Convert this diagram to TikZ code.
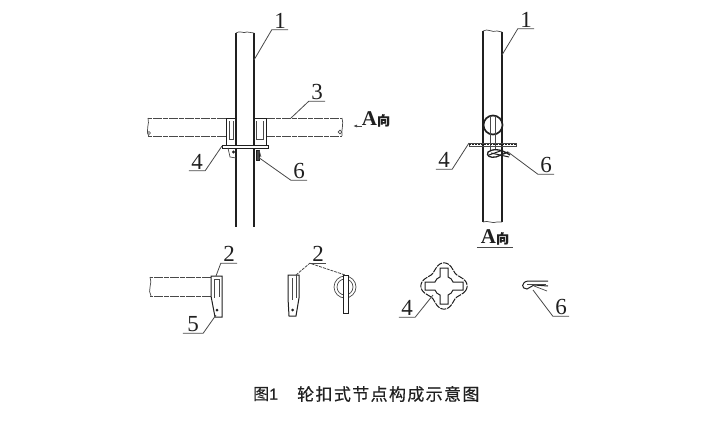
\documentclass[tikz,border=0pt]{standalone}
\usepackage{fontspec}
\setmainfont{Liberation Serif}
\newfontfamily\cjk{Noto Sans CJK SC}
\newfontfamily\cjkbold[FakeBold=0.5]{Noto Sans CJK SC}
\newfontfamily\cjkspaced[LetterSpace=8,FakeBold=0.5]{Noto Sans CJK SC}
\newfontfamily\capsans[FakeBold=0.5]{Liberation Sans}
\usetikzlibrary{arrows.meta}
\definecolor{ink}{HTML}{202020}
\definecolor{soft}{HTML}{484848}
\tikzset{
  x=1pt,y=-1pt,
  lab/.style={inner sep=0pt,minimum width=16pt,minimum height=18pt,text=ink,font=\fontsize{23}{23}\selectfont},
  lead/.style={draw=soft,line width=0.8pt},
  rule/.style={draw=soft,line width=0.9pt},
  pole/.style={draw=ink,line width=1.2pt},
  thin/.style={draw=soft,line width=0.7pt},
  tube/.style={draw=soft,line width=1pt,dash pattern=on 9pt off 1pt on 5pt off 1pt},
  part/.style={draw=ink,line width=1pt},
  arrowlab/.style={inner sep=0pt,text=ink,font=\fontsize{21}{21}\selectfont\bfseries}
}
\begin{document}
\begin{tikzpicture}
\useasboundingbox (0,0) rectangle (727,428);

% ---- left front view
\draw[pole] (236,33) -- (236,227);
\draw[pole] (254,33) -- (254,227);
\draw[thin] (236,33) .. controls (240,30) and (243,34) .. (247,32) -- (254,33);
\draw[tube] (226,118) -- (148,118);
\draw[tube] (226,136.5) -- (148,136.5);
\draw[thin] (148,118) .. controls (150,124) and (145,130) .. (149,136.5);
\draw[thin] (149,133) circle (1.5);
\draw[tube] (266,118) -- (342,118);
\draw[tube] (266,136) -- (342,136);
\draw[thin] (342,118) .. controls (344,124) and (341,130) .. (342,136);
\draw[thin] (340,132) circle (1.8);
\draw[part] (226,146) -- (226,118) -- (236,118);
\draw[part] (254,118) -- (266,118) -- (266,146);
\draw[thin] (229,121) -- (229,139) -- (233,139) -- (233,121);
\draw[thin] (256,121) -- (256,139) -- (263,139) -- (263,121);
\draw[part,fill=white] (222,145) rectangle (268,148);
\draw[thin] (228,148) -- (230,157) -- (236,158);
\fill[ink] (233.5,152) circle (1.6);
\draw[part,fill=soft] (256,150) rectangle (259,160);
\draw[thin] (259,150) -- (261,157);

\node[lab] (a1) at (280,20.5) {1};
\coordinate (a1t) at (254,60);
\draw[lead] (a1t) -- (a1.south west) -- (a1.south east);
\node[lab] (a3) at (317,92) {3};
\coordinate (a3t) at (291,118);
\draw[lead] (a3t) -- (a3.south west) -- (a3.south east);
\node[lab] (a4) at (197,161.5) {4};
\coordinate (a4t) at (222,146);
\draw[lead] (a4t) -- (a4.south east) -- (a4.south west);
\node[lab] (a6) at (299,171) {6};
\coordinate (a6t) at (258,157);
\draw[lead] (a6t) -- (a6.south west) -- (a6.south east);
\node[arrowlab] (viewA) at (376,119) {A{\cjkbold\fontsize{13}{13}\selectfont 向}};
\coordinate (viewAt) at (353,126);
\draw[lead,-{Latex[length=4pt,width=3pt]}] (viewA.south west |- 0,126) -- (viewAt);

% ---- right side view
\draw[pole] (483,31) -- (483,222);
\draw[pole] (502,32) -- (502,222);
\draw[thin] (483,31) .. controls (488,28) and (492,33) .. (497,31) -- (502,32);
\draw[thin] (483,222) .. controls (488,220) and (492,224) .. (497,222) -- (502,222);
\draw[draw=ink,line width=1.7pt,fill=white] (493,125) circle (9.5);
\draw[thin] (490,116) -- (490,150);
\draw[thin] (495,116) -- (495,150);
\draw[thin] (469,143) rectangle (516,146);
\draw[draw=ink,line width=0.7pt,dash pattern=on 2pt off 1pt] (469,144.5) -- (516,144.5);
\draw[part,line width=1.3pt] (510,155) .. controls (500,148) and (492,149) .. (488,152) .. controls (486,156) and (490,158) .. (496,157) -- (508,152);
\draw[part] (491,153) -- (509,157);
\draw[part] (489,155) -- (503,150);

\node[lab] (b1) at (526,19.5) {1};
\coordinate (b1t) at (502,55);
\draw[lead] (b1t) -- (b1.south west) -- (b1.south east);
\node[lab] (b4) at (444,160) {4};
\coordinate (b4t) at (469,143);
\draw[lead] (b4t) -- (b4.south east) -- (b4.south west);
\node[lab] (b6) at (546,165) {6};
\coordinate (b6t) at (508,152);
\draw[lead] (b6t) -- (b6.south west) -- (b6.south east);
\node[arrowlab,minimum width=36pt,minimum height=20pt] (b7) at (495,237) {A{\cjkbold\fontsize{13}{13}\selectfont 向}};
\draw[rule] (b7.south west) -- (b7.south east);

% ---- bottom: cross bar with head
\draw[tube] (211,277) -- (150,277);
\draw[tube] (211,296) -- (150,296);
\draw[thin] (150,277) .. controls (153,283) and (147,290) .. (151,296);
\draw[part] (211,296) -- (211,276) -- (222,276) -- (222,317) -- (215,317) -- (211,296);
\draw[thin] (214,279) -- (219,279) -- (219,297);
\draw[thin] (214,279) -- (214,298);
\fill[ink] (217,310) circle (1.5);

\node[lab] (c2) at (229,254) {2};
\coordinate (c2t) at (216,276);
\draw[lead] (c2t) -- (c2.south west) -- (c2.south east);
\node[lab,minimum width=20pt] (c5) at (193,324) {5};
\coordinate (c5t) at (216,315);
\draw[lead] (c5t) -- (c5.south east) -- (c5.south west);

% ---- bottom: head, two views
\draw[part] (288,275) -- (299,275) -- (299,298) -- (296,316) -- (289,316) -- (288,298) -- cycle;
\draw[thin] (292,278) -- (292,300);
\draw[thin] (296,275) -- (296,298);
\fill[ink] (292.5,310) circle (1.5);
\draw[thin] (345,287) circle (11);
\draw[thin] (345,287) circle (8);
\draw[part,fill=white] (343,275) rectangle (348,313);

\node[lab] (d2) at (318,254) {2};
\coordinate (d2a) at (296,275);
\coordinate (d2b) at (345,275);
\draw[rule] (d2.south west) -- (d2.south east);
\draw[lead,dash pattern=on 3pt off 1pt] (d2a) -- (d2.south west) -- (d2b);

% ---- bottom: wedge plate
\begin{scope}[shift={(444,286)}]
  \draw[part,dash pattern=on 6pt off 1pt]
    plot[domain=0:350,samples=36,smooth cycle] ({(20+3.2*cos(4*\x))*cos(\x)},{(20+3.2*cos(4*\x))*sin(\x)});
  \draw[part] (-4,-18) -- (4,-18) -- (4,-9) to[bend left=25] (9,-4) -- (19,-4) -- (19,4)
     -- (9,4) to[bend left=25] (4,9) -- (4,18) -- (-4,18) -- (-4,9) to[bend left=25] (-9,4)
     -- (-19,4) -- (-19,-4) -- (-9,-4) to[bend left=25] (-4,-9) -- cycle;
\end{scope}
\coordinate (e4t) at (433,295);
\node[lab] (e4) at (407,308) {4};
\draw[lead] (e4t) -- (e4.south east) -- (e4.south west);

% ---- bottom: cotter pin
\draw[part] (548,281) -- (528,281) .. controls (521,282) and (521,289) .. (527,289) -- (534,285) -- (548,286);
\draw[thin] (527,284) -- (546,284);
\draw[thin] (534,286) -- (547,291);
\coordinate (f6t) at (533,290);
\node[lab] (f6) at (561,307) {6};
\draw[lead] (f6t) -- (f6.south west) -- (f6.south east);

% ---- caption
\node[inner sep=0pt,anchor=west,text=ink,font=\fontsize{16}{16}\selectfont] (capa) at (253,394) {\cjkbold 图\capsans 1};
\node[inner sep=0pt,anchor=west,text=ink,font=\fontsize{17}{17}\selectfont] (capb) at (297,394) {\cjkspaced 轮扣式节点构成示意图};
\end{tikzpicture}
\end{document}
